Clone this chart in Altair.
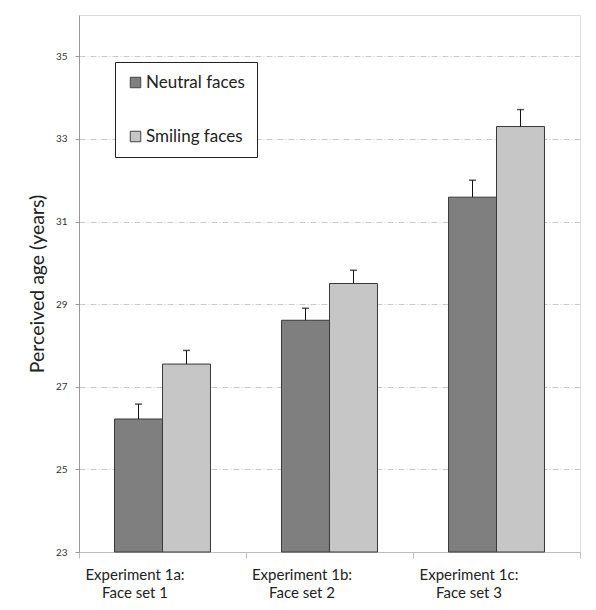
import altair as alt
import pandas as pd

experiments = ["Experiment 1a: Face set 1", "Experiment 1b: Face set 2", "Experiment 1c: Face set 3"]
conditions = ["Neutral faces", "Smiling faces"]
neutral_means = [26.22, 28.61, 31.59]
neutral_upper = [26.58, 28.90, 32.00]
smiling_means = [27.55, 29.50, 33.30]
smiling_upper = [27.88, 29.82, 33.71]
y_ticks = [23, 25, 27, 29, 31, 33, 35]
y_base = 23

rows = []
for i, e in enumerate(experiments):
    rows.append({"exp": e, "cond": conditions[0], "mean": neutral_means[i], "upper": neutral_upper[i]})
    rows.append({"exp": e, "cond": conditions[1], "mean": smiling_means[i], "upper": smiling_upper[i]})
df = pd.DataFrame(rows)

FONT = "Lato"

x_enc = alt.X("exp:N", sort=experiments, title=None,
              scale=alt.Scale(paddingInner=0, paddingOuter=0),
              axis=alt.Axis(tickBand="extent", labelAngle=0, labelFontSize=15, labelColor="#222",
                            labelFont=FONT, labelPadding=9, labelLineHeight=18,
                            labelOffset=-28, labelAlign="center",
                            labelExpr="datum.label ? [split(datum.label, ': ')[0] + ':', split(datum.label, ': ')[1]] : ''",
                            tickColor="#bdbdbd", tickSize=6, domainColor="#bdbdbd", grid=False))
xoff = alt.XOffset("cond:N", sort=conditions, scale=alt.Scale(paddingOuter=0.74, paddingInner=0))

y_scale = alt.Scale(domain=[23, 36], nice=False, zero=False)

bars = alt.Chart(df).mark_bar(stroke="#3a3a3a", strokeWidth=1).encode(
    x=x_enc,
    xOffset=xoff,
    y=alt.Y("mean:Q", scale=y_scale, title="Perceived age (years)",
            axis=alt.Axis(values=y_ticks, labelFontSize=10, labelColor="#333", labelFont=FONT,
                          titleFont=FONT, titleFontSize=19.5, titleFontWeight="normal", titleColor="#222",
                          titleX=-42, titleBaseline="middle", domainColor="#9a9a9a",
                          tickColor="#9a9a9a", tickSize=4,
                          labelPadding=8, gridColor="#c8c8c8", gridDash=[6, 2, 1, 2], gridWidth=1)),
    y2=alt.datum(y_base),
    color=alt.Color("cond:N", sort=conditions, title=None,
                    scale=alt.Scale(domain=conditions, range=["#7f7f7f", "#c6c6c6"]),
                    legend=alt.Legend(orient="none", legendX=36, legendY=47, direction="vertical",
                                      strokeColor="#222", fillColor="white", padding=12,
                                      rowPadding=36, symbolType="square", symbolSize=110,
                                      symbolStrokeColor="#444", symbolStrokeWidth=1,
                                      labelFont=FONT, labelFontSize=17, labelColor="#222",
                                      labelOffset=2, symbolOffset=0)),
)

err = alt.Chart(df).mark_rule(color="#111", strokeWidth=1).encode(
    x=alt.X("exp:N", sort=experiments),
    xOffset=xoff,
    y=alt.Y("mean:Q", scale=y_scale),
    y2="upper:Q",
)

caps = alt.Chart(df).mark_tick(color="#111", thickness=1.5, size=7, orient="horizontal").encode(
    x=alt.X("exp:N", sort=experiments),
    xOffset=xoff,
    y=alt.Y("upper:Q", scale=y_scale),
)

chart = alt.layer(bars, err, caps).properties(
    width=501, height=537,
    autosize=alt.AutoSizeParams(type="none"),
    padding={"left": 71, "top": 7, "right": 8, "bottom": 50},
).configure_view(stroke=None).configure(font=FONT)

chart.save("out.html", embed_options={"renderer": "svg", "actions": False})
